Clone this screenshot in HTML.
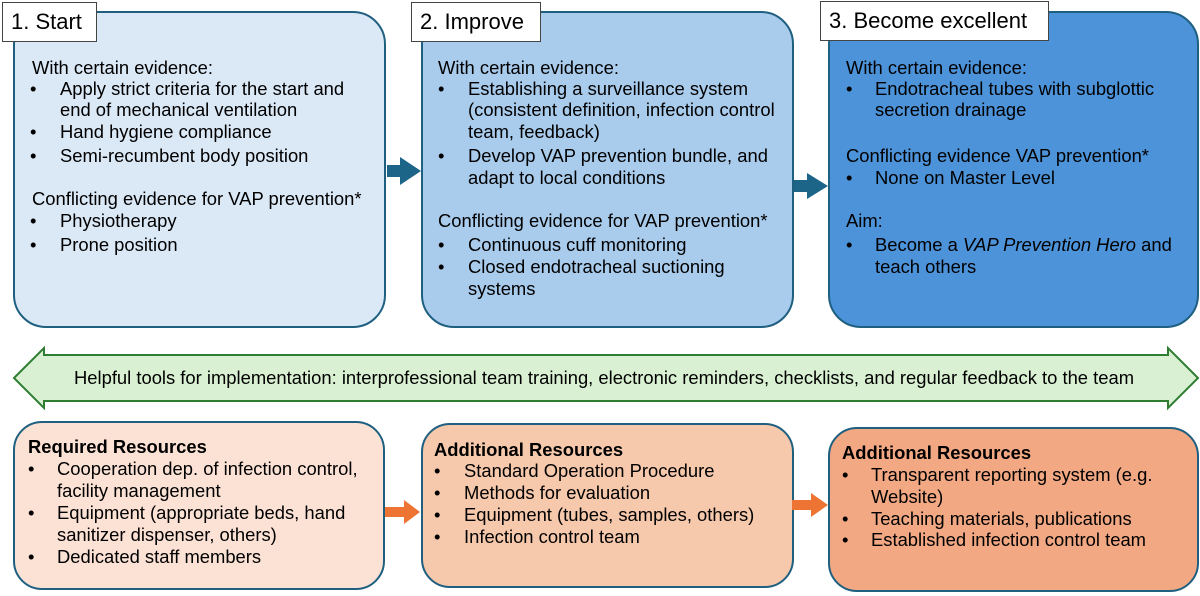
<!DOCTYPE html>
<html><head><meta charset="utf-8"><style>
body{margin:0;width:1200px;height:596px;background:#fff;position:relative;overflow:hidden;font-family:"Liberation Sans",Arial,sans-serif;color:#000}
svg{position:absolute;left:0;top:0}
.t{position:absolute;font-size:18.4px;line-height:20px;white-space:nowrap}
.b{font-weight:bold}
.lab{position:absolute;background:#fff;border:1px solid #444;font-size:22px;line-height:38px;padding:0 8px;box-sizing:border-box;height:40px}
</style></head><body>
<svg width="1200" height="596">
<rect x="14" y="12" width="371" height="315" rx="32" fill="#dbe8f6" stroke="#1f5f80" stroke-width="2"/>
<rect x="422" y="12" width="371" height="315" rx="32" fill="#a9cbec" stroke="#1f5f80" stroke-width="2"/>
<rect x="829" y="12" width="369" height="315" rx="32" fill="#4d93d9" stroke="#1f5f80" stroke-width="2"/>
<polygon points="387,165 400,165 400,157 421,171 400,185 400,177 387,177" fill="#1c6488"/>
<polygon points="794,180 807,180 807,173 828,186 807,199 807,192 794,192" fill="#1c6488"/>
<polygon points="14,378 44,348 44,355 1168,355 1168,348 1198,378 1168,408 1168,401 44,401 44,408" fill="#d9f1d2" stroke="#2e7d32" stroke-width="2"/>
<rect x="14" y="422" width="370" height="167" rx="28" fill="#fbe2d5" stroke="#1f5f80" stroke-width="2"/>
<rect x="422" y="424" width="371" height="163" rx="28" fill="#f6c8ac" stroke="#1f5f80" stroke-width="2"/>
<rect x="829" y="428" width="369" height="163" rx="28" fill="#f1a883" stroke="#1f5f80" stroke-width="2"/>
<polygon points="385,507 404,507 404,500 420,512 404,524 404,517 385,517" fill="#ee7433"/>
<polygon points="792,500 811,500 811,493 828,505 811,517 811,510 792,510" fill="#ee7433"/>
</svg>
<div class="lab" style="left:2px;top:2px;width:95px">1. Start</div>
<div class="lab" style="left:411px;top:2px;width:130px">2. Improve</div>
<div class="lab" style="left:820px;top:1px;width:229px">3. Become excellent</div>

<div class="t" style="left:32px;top:58px">With certain evidence:</div>
<div class="t" style="left:30px;top:79px">•</div><div class="t" style="left:60px;top:79px">Apply strict criteria for the start and</div>
<div class="t" style="left:60px;top:100px">end of mechanical ventilation</div>
<div class="t" style="left:30px;top:122px">•</div><div class="t" style="left:60px;top:122px">Hand hygiene compliance</div>
<div class="t" style="left:30px;top:146px">•</div><div class="t" style="left:60px;top:146px">Semi-recumbent body position</div>
<div class="t" style="left:32px;top:189px">Conflicting evidence for VAP prevention*</div>
<div class="t" style="left:30px;top:211px">•</div><div class="t" style="left:60px;top:211px">Physiotherapy</div>
<div class="t" style="left:30px;top:235px">•</div><div class="t" style="left:60px;top:235px">Prone position</div>

<div class="t" style="left:438px;top:58px">With certain evidence:</div>
<div class="t" style="left:438px;top:79px">•</div><div class="t" style="left:468px;top:79px">Establishing a surveillance system</div>
<div class="t" style="left:468px;top:100px">(consistent definition, infection control</div>
<div class="t" style="left:468px;top:122px">team, feedback)</div>
<div class="t" style="left:438px;top:146px">•</div><div class="t" style="left:468px;top:146px">Develop VAP prevention bundle, and</div>
<div class="t" style="left:468px;top:168px">adapt to local conditions</div>
<div class="t" style="left:438px;top:211px">Conflicting evidence for VAP prevention*</div>
<div class="t" style="left:438px;top:235px">•</div><div class="t" style="left:468px;top:235px">Continuous cuff monitoring</div>
<div class="t" style="left:438px;top:257px">•</div><div class="t" style="left:468px;top:257px">Closed endotracheal suctioning</div>
<div class="t" style="left:468px;top:279px">systems</div>

<div class="t" style="left:846px;top:58px">With certain evidence:</div>
<div class="t" style="left:846px;top:79px">•</div><div class="t" style="left:875px;top:79px">Endotracheal tubes with subglottic</div>
<div class="t" style="left:875px;top:100px">secretion drainage</div>
<div class="t" style="left:846px;top:146px">Conflicting evidence VAP prevention*</div>
<div class="t" style="left:846px;top:168px">•</div><div class="t" style="left:875px;top:168px">None on Master Level</div>
<div class="t" style="left:846px;top:211px">Aim:</div>
<div class="t" style="left:846px;top:235px">•</div><div class="t" style="left:875px;top:235px">Become a <i>VAP Prevention Hero</i> and</div>
<div class="t" style="left:875px;top:257px">teach others</div>

<div class="t" style="left:74px;top:368px">Helpful tools for implementation: interprofessional team training, electronic reminders, checklists, and regular feedback to the team</div>

<div class="t b" style="left:28px;top:437px">Required Resources</div>
<div class="t" style="left:28px;top:459px">•</div><div class="t" style="left:57px;top:459px">Cooperation dep. of infection control,</div>
<div class="t" style="left:57px;top:481px">facility management</div>
<div class="t" style="left:28px;top:503px">•</div><div class="t" style="left:57px;top:503px">Equipment (appropriate beds, hand</div>
<div class="t" style="left:57px;top:525px">sanitizer dispenser, others)</div>
<div class="t" style="left:28px;top:547px">•</div><div class="t" style="left:57px;top:547px">Dedicated staff members</div>

<div class="t b" style="left:434px;top:440px">Additional Resources</div>
<div class="t" style="left:434px;top:461px">•</div><div class="t" style="left:464px;top:461px">Standard Operation Procedure</div>
<div class="t" style="left:434px;top:483px">•</div><div class="t" style="left:464px;top:483px">Methods for evaluation</div>
<div class="t" style="left:434px;top:505px">•</div><div class="t" style="left:464px;top:505px">Equipment (tubes, samples, others)</div>
<div class="t" style="left:434px;top:527px">•</div><div class="t" style="left:464px;top:527px">Infection control team</div>

<div class="t b" style="left:842px;top:443px">Additional Resources</div>
<div class="t" style="left:842px;top:465px">•</div><div class="t" style="left:871px;top:465px">Transparent reporting system (e.g.</div>
<div class="t" style="left:871px;top:487px">Website)</div>
<div class="t" style="left:842px;top:509px">•</div><div class="t" style="left:871px;top:509px">Teaching materials, publications</div>
<div class="t" style="left:842px;top:530px">•</div><div class="t" style="left:871px;top:530px">Established infection control team</div>
</body></html>
